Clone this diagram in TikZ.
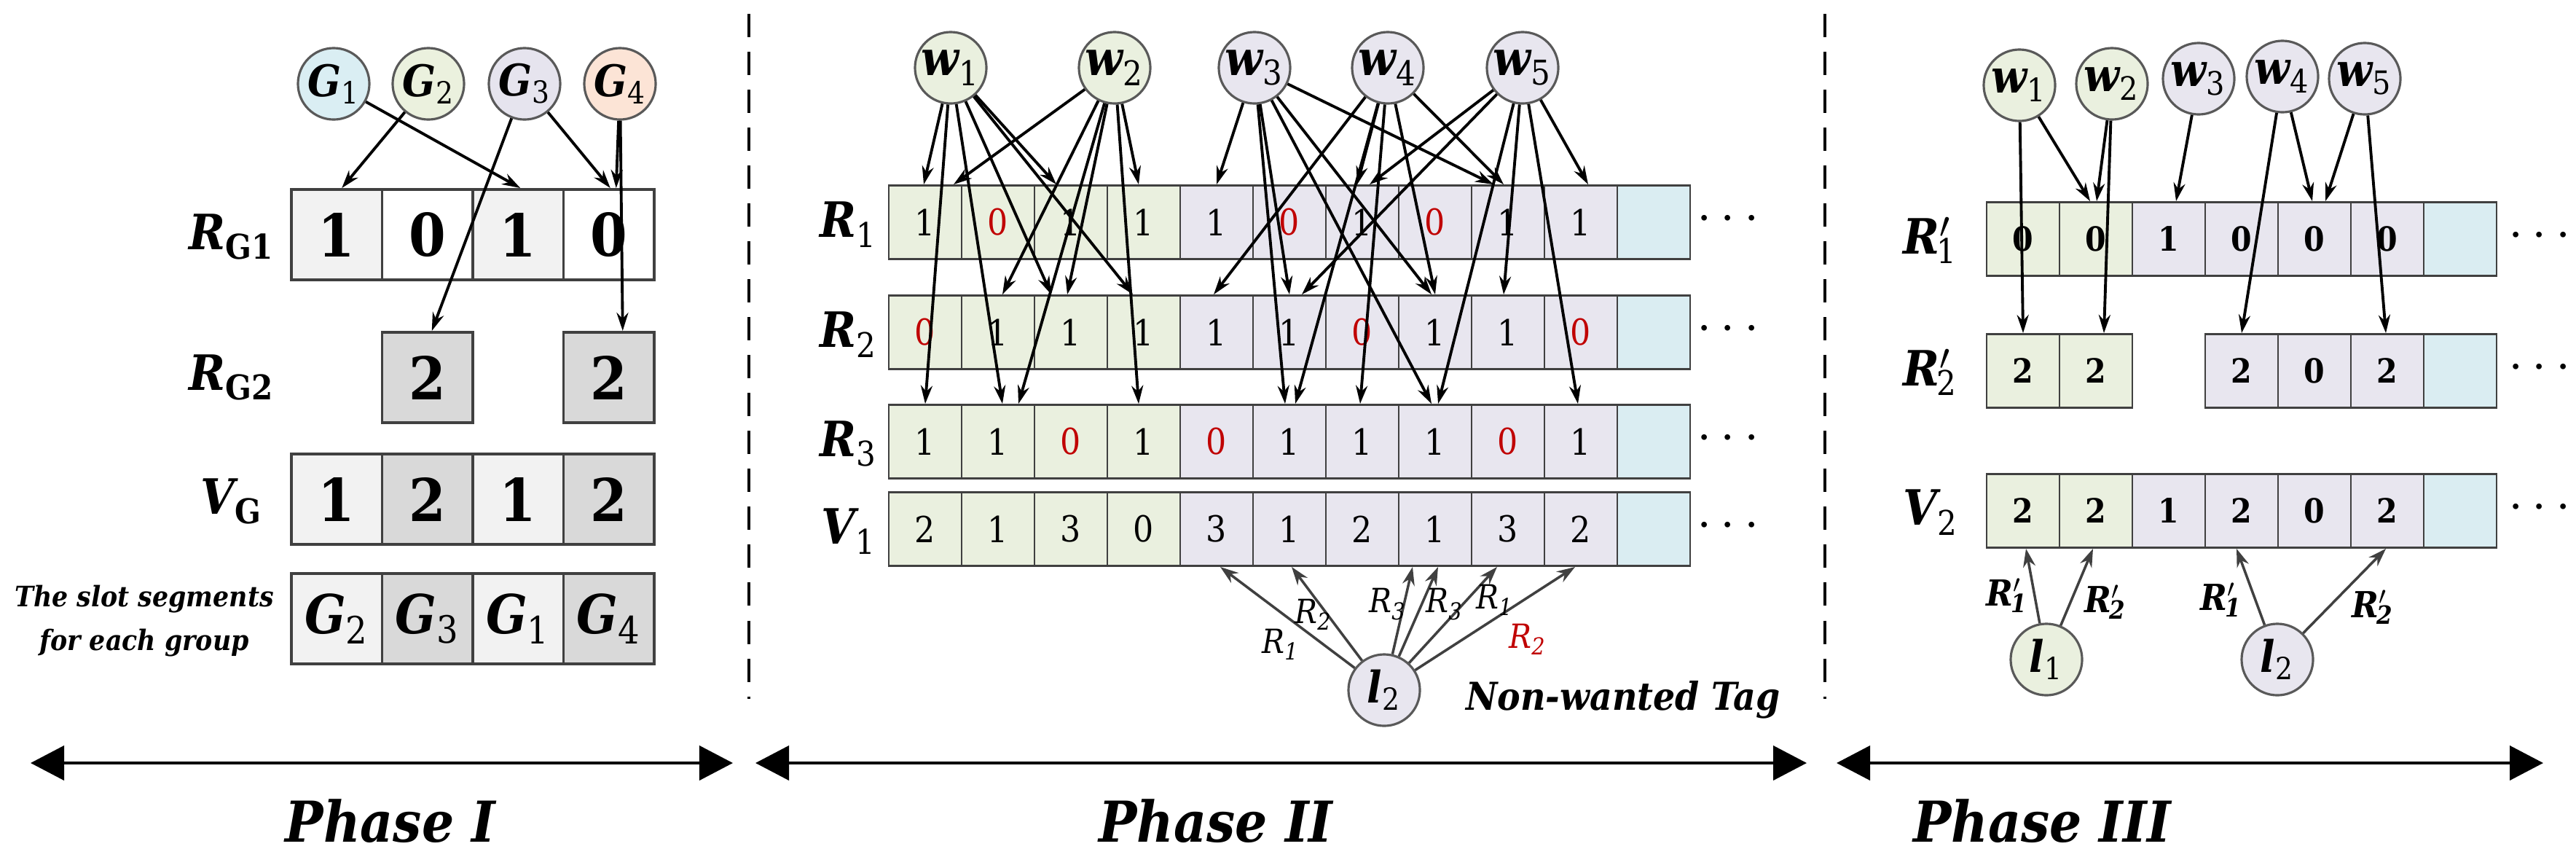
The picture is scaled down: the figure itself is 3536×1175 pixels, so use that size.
\documentclass[tikz,border=0pt]{standalone}
\usepackage{fontspec}
\setmainfont{DejaVu Serif Condensed}
\usetikzlibrary{arrows.meta,calc}

\definecolor{grn}{HTML}{EAF0DF}
\definecolor{lav}{HTML}{E8E6EF}
\definecolor{blu}{HTML}{DAEDF2}
\definecolor{lgr}{HTML}{F2F2F2}
\definecolor{dgr}{HTML}{D9D9D9}
\definecolor{gone}{HTML}{DAEEF3}
\definecolor{gtwo}{HTML}{EBF1DE}
\definecolor{gthr}{HTML}{E6E4EE}
\definecolor{gfou}{HTML}{FCE4D6}
\definecolor{rd}{HTML}{C00000}
\definecolor{k}{HTML}{000000}
\colorlet{r}{rd}

\newcommand{\sbs}[2]{\textit{#1}\textsubscript{#2}}
\newcommand{\prm}[2]{\textit{#1}$'$\kern-0.3em\textsubscript{#2}}

\begin{document}
\begin{tikzpicture}[x=0.01cm,y=-0.01cm,
  cell/.style={rectangle,draw=black!75,line width=0.8pt,minimum width=1cm,
    minimum height=1.01cm,inner sep=0pt,font=\fontsize{14}{14}\selectfont},
  bcell/.style={cell,line width=1.1pt,minimum width=1.245cm,minimum height=1.24cm,
    font=\fontsize{23}{23}\selectfont\bfseries},
  ccell/.style={cell,font=\fontsize{13}{13}\selectfont\bfseries},
  tag/.style={circle,draw=black!65,line width=0.9pt,minimum size=0.98cm,inner sep=0pt,
    font=\fontsize{17}{17}\selectfont\bfseries\itshape},
  rowlab/.style={font=\fontsize{19}{19}\selectfont\bfseries\itshape},
  arr/.style={-{Stealth[length=0.25cm,width=0.16cm]},line width=1.1pt},
  garr/.style={-{Stealth[length=0.25cm,width=0.17cm]},line width=1pt,draw=black!75},
  small/.style={font=\fontsize{13}{13}\selectfont\itshape},
  phase/.style={{Triangle[length=0.46cm,width=0.47cm]}-{Triangle[length=0.46cm,width=0.47cm]},
    line width=1.2pt},
  plab/.style={font=\fontsize{22}{22}\selectfont\bfseries\itshape},
  sep/.style={line width=1.4pt,dash pattern=on 0.32cm off 0.2cm},
  dots/.style={font=\fontsize{20}{20}\selectfont\bfseries}]
\useasboundingbox (0,0) rectangle (3536,1175);

% ---------------- Phase I
\node[tag,fill=gone] (G1) at (458,115) {G\textsubscript{\upshape\mdseries 1}};
\node[tag,fill=gtwo] (G2) at (588,115) {G\textsubscript{\upshape\mdseries 2}};
\node[tag,fill=gthr] (G3) at (720,115) {G\textsubscript{\upshape\mdseries 3}};
\node[tag,fill=gfou] (G4) at (851,115) {G\textsubscript{\upshape\mdseries 4}};

\foreach \v/\f [count=\c] in {1/lgr,0/white,1/lgr,0/white}
  \node[bcell,fill=\f] (a\c) at (400+124.5*\c-62.25,322) {\v};
\node[bcell,fill=dgr] (b2) at (a2|-0,518) {2};
\node[bcell,fill=dgr] (b4) at (a4|-0,518) {2};
\foreach \v/\f [count=\c] in {1/lgr,2/dgr,1/lgr,2/dgr}
  \node[bcell,fill=\f] (e\c) at (400+124.5*\c-62.25,685) {\v};
\foreach \v/\f [count=\c] in {2/lgr,3/dgr,1/lgr,4/dgr}
  \node[bcell,fill=\f,font=\fontsize{21}{21}\selectfont\bfseries\itshape] (s\c)
    at (400+124.5*\c-62.25,849) {G\textsubscript{\upshape\mdseries\v}};

\node[rowlab] at (318,325) {\sbs{R}{\upshape G1}};
\node[rowlab] at (318,518) {\sbs{R}{\upshape G2}};
\node[rowlab] at (318,688) {\sbs{V}{\upshape G}};
\node[font=\fontsize{11}{17}\selectfont\bfseries\itshape,align=center] at (198,852)
  {The slot segments\\for each group};

\draw[arr] (G1) -- ($(a3.north)+(3,0)$);
\draw[arr] (G2) -- ($(a1.north)+(7,0)$);
\draw[arr] (G3) -- ($(a4.north)+(2,0)$);
\draw[arr] (G3) -- ($(b2.north)+(6,0)$);
\draw[arr] (G4) -- ($(a4.north)+(10,0)$);
\draw[arr] (G4) -- ($(b4.north)+(19,0)$);

\draw[sep] (1028,19) -- (1028,959);

% ---------------- Phase II
\foreach \i/\x/\f in {1/1305/grn,2/1530/grn,3/1722/lav,4/1905/lav,5/2090/lav}
  \node[tag,fill=\f,font=\fontsize{19}{19}\selectfont\bfseries\itshape] (w\i) at (\x,93)
    {w\textsubscript{\upshape\mdseries\i}};

\foreach \r/\y/\vals in {1/305/{k/1,r/0,k/1,k/1,k/1,r/0,k/1,r/0,k/1,k/1},
                         2/456/{r/0,k/1,k/1,k/1,k/1,k/1,r/0,k/1,k/1,r/0},
                         3/606/{k/1,k/1,r/0,k/1,r/0,k/1,k/1,k/1,r/0,k/1},
                         4/726/{k/2,k/1,k/3,k/0,k/3,k/1,k/2,k/1,k/3,k/2}}{
  \foreach \t/\v [count=\c] in \vals {
    \ifnum\c<5 \def\f{grn}\else\def\f{lav}\fi
    \node[cell,fill=\f,text=\t] (r\r c\c) at (1170+100*\c,\y) {\v};
  }
  \node[cell,fill=blu] (r\r c11) at (2270,\y) {};
  \node[dots] at (2372,\y-4) {$\cdots$};
}
\node[rowlab] at (1165,308) {\sbs{R}{\upshape\mdseries 1}};
\node[rowlab] at (1165,459) {\sbs{R}{\upshape\mdseries 2}};
\node[rowlab] at (1165,609) {\sbs{R}{\upshape\mdseries 3}};
\node[rowlab] at (1165,729) {\sbs{V}{\upshape\mdseries 1}};

\foreach \w/\r/\c/\d in {1/1/1/-2,1/1/3/-20,1/2/3/-27,1/2/4/-15,1/3/1/0,1/3/2/6,
    2/1/1/39,2/1/4/-7,2/2/2/6,2/2/3/-5,2/3/2/28,2/3/4/-7,
    3/1/5/0,3/1/9/-20,3/2/6/0,3/2/8/-5,3/3/6/-6,3/3/8/-5,
    4/1/7/-7,4/1/9/-6,4/2/5/-4,4/2/8/0,4/3/6/8,4/3/7/-3,
    5/1/7/10,5/1/10/10,5/2/6/17,5/2/9/-6,5/3/8/4,5/3/10/-4}
  \draw[arr] (w\w) -- ($(r\r c\c.north)+(\d,0)$);

\node[tag,fill=lav] (l2) at (1900,947) {l\textsubscript{\upshape\mdseries 2}};
\foreach \c/\d in {5/5,6/3,8/-31,8/4,9/-15,10/-8}
  \draw[garr] (l2) -- ($(r4c\c.south)+(\d,0)$);
\node[small] at (1758,884) {\sbs{R}{1}};
\node[small] at (1803,843) {\sbs{R}{2}};
\node[small] at (1905,829) {\sbs{R}{3}};
\node[small] at (1983,829) {\sbs{R}{3}};
\node[small] at (2052,823) {\sbs{R}{1}};
\node[small,text=rd] at (2097,877) {\sbs{R}{2}};
\node[font=\fontsize{15}{15}\selectfont\bfseries\itshape,anchor=west] at (2000,960)
  {Non-wanted Tag};

\draw[sep] (2505,19) -- (2505,959);

% ---------------- Phase III
\foreach \i/\x/\y/\f in {1/2772/117/grn,2/2899/115/grn,3/3018/108/lav,4/3133/105/lav,5/3246/108/lav}
  \node[tag,fill=\f,font=\fontsize{18}{18}\selectfont\bfseries\itshape] (u\i) at (\x,\y)
    {w\textsubscript{\upshape\mdseries\i}};

\foreach \v/\f [count=\c] in {0/grn,0/grn,1/lav,0/lav,0/lav,0/lav}
  \node[ccell,fill=\f] (q1c\c) at (2677+100*\c,328) {\v};
\foreach \v/\f [count=\c] in {2/grn,2/grn,1/lav,2/lav,0/lav,2/lav}
  \node[ccell,fill=\f] (q3c\c) at (2677+100*\c,701) {\v};
\foreach \v/\f/\c in {2/grn/1,2/grn/2,2/lav/4,0/lav/5,2/lav/6}
  \node[ccell,fill=\f] (q2c\c) at (2677+100*\c,509) {\v};
\foreach \r/\y in {1/328,2/509,3/701}{
  \node[cell,fill=blu] (q\r c7) at (3377,\y) {};
  \node[dots] at (3486,\y-4) {$\cdots$};
}
\node[rowlab] at (2650,330) {\prm{R}{\upshape\mdseries 1}};
\node[rowlab] at (2650,511) {\prm{R}{\upshape\mdseries 2}};
\node[rowlab] at (2650,703) {\sbs{V}{\upshape\mdseries 2}};

\foreach \w/\r/\c/\d in {1/2/1/0,1/1/2/-8,2/1/2/1,2/2/2/11,3/1/3/10,
    4/2/4/0,4/1/5/-3,5/1/5/15,5/2/6/-2}
  \draw[arr] (u\w) -- ($(q\r c\c.north)+(\d,0)$);

\node[tag,fill=grn] (m1) at (2809,905) {l\textsubscript{\upshape\mdseries 1}};
\node[tag,fill=lav] (m2) at (3126,905) {l\textsubscript{\upshape\mdseries 2}};
\draw[garr] (m1) -- ($(q3c1.south)+(4,0)$);
\draw[garr] (m1) -- ($(q3c2.south)+(-4,0)$);
\draw[garr] (m2) -- ($(q3c4.south)+(-7,0)$);
\draw[garr] (m2) -- ($(q3c6.south)+(-2,0)$);
\node[small,font=\fontsize{14}{14}\selectfont\bfseries\itshape] at (2755,817) {\prm{R}{1}};
\node[small,font=\fontsize{14}{14}\selectfont\bfseries\itshape] at (2890,826) {\prm{R}{2}};
\node[small,font=\fontsize{14}{14}\selectfont\bfseries\itshape] at (3049,823) {\prm{R}{1}};
\node[small,font=\fontsize{14}{14}\selectfont\bfseries\itshape] at (3257,833) {\prm{R}{2}};

% ---------------- phases
\coordinate (p1a) at (42,1047);  \coordinate (p1b) at (1006,1047);
\coordinate (p2a) at (1037,1047); \coordinate (p2b) at (2480,1047);
\coordinate (p3a) at (2521,1047); \coordinate (p3b) at (3491,1047);
\draw[phase] (p1a) -- (p1b);
\draw[phase] (p2a) -- (p2b);
\draw[phase] (p3a) -- (p3b);
\node[plab] at (536,1127) {Phase I};
\node[plab] at (1669,1127) {Phase II};
\node[plab] at (2803,1127) {Phase III};
\end{tikzpicture}
\end{document}
